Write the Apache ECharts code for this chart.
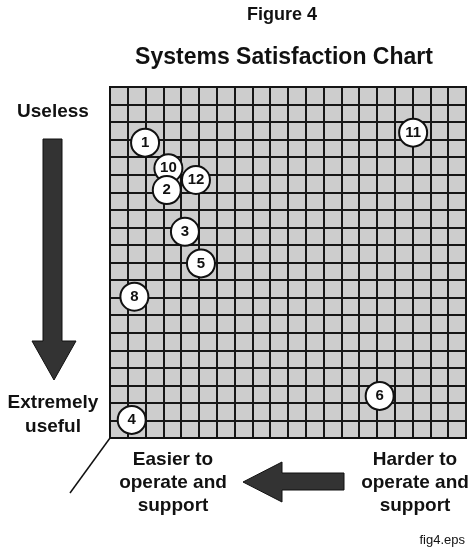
<!DOCTYPE html>
<html>
<head>
<meta charset="utf-8">
<script src="https://cdn.jsdelivr.net/npm/echarts@6/dist/echarts.min.js"></script>
<style>
html,body{margin:0;padding:0;background:#fff;}
#chart{width:474px;height:556px;}
</style>
</head>
<body>
<div id="chart"></div>
<script>
// System ids and their positions on the 20x20 grid
const systems = ['1', '10', '12', '2', '3', '5', '8', '4', '6', '11'];
// x: ease of operation/support (0 = easier, 20 = harder)
const easeValues = [1.97, 3.28, 4.83, 3.19, 4.21, 5.11, 1.37, 1.22, 15.15, 17.03];
// y: usefulness (0 = extremely useful, 20 = useless)
const usefulValues = [16.83, 15.37, 14.7, 14.13, 11.75, 9.95, 8.05, 1.03, 2.4, 17.4];

const FONT = 'Liberation Sans, Arial, sans-serif';

const chart = echarts.init(document.getElementById('chart'), null, {renderer: 'canvas'});

const points = systems.map((s, i) => ({name: s, value: [easeValues[i], usefulValues[i]]}));

const axisCommon = {
  type: 'value', min: 0, max: 20, interval: 1,
  axisLabel: {show: false}, axisTick: {show: false},
  axisLine: {show: true, lineStyle: {color: '#111', width: 2}},
  splitLine: {show: true, lineStyle: {color: '#161616', width: 2}}
};

chart.setOption({
  backgroundColor: '#ffffff',
  animation: false,
  grid: {
    left: 110, top: 87, width: 356, height: 351,
    show: true, backgroundColor: '#cdcdcd', borderColor: '#111', borderWidth: 2
  },
  xAxis: Object.assign({}, axisCommon),
  yAxis: Object.assign({}, axisCommon),
  series: [{
    type: 'scatter',
    data: points,
    symbol: 'circle',
    symbolSize: 28,
    itemStyle: {color: '#ffffff', borderColor: '#111', borderWidth: 2, opacity: 1},
    label: {
      show: true, position: 'inside', formatter: '{b}',
      color: '#111', fontFamily: FONT, fontWeight: 'bold', fontSize: 15
    },
    z: 5
  }],
  graphic: [
    {type: 'text', x: 282, y: 15, style: {text: 'Figure 4', font: 'bold 18px ' + FONT, fill: '#111', align: 'center', verticalAlign: 'middle'}},
    {type: 'text', x: 284, y: 58, style: {text: 'Systems Satisfaction Chart', font: 'bold 23px ' + FONT, fill: '#111', align: 'center', verticalAlign: 'middle'}},
    {type: 'text', x: 53, y: 112, style: {text: 'Useless', font: 'bold 19px ' + FONT, fill: '#111', align: 'center', verticalAlign: 'middle'}},
    {type: 'text', x: 53, y: 403, style: {text: 'Extremely', font: 'bold 19px ' + FONT, fill: '#111', align: 'center', verticalAlign: 'middle'}},
    {type: 'text', x: 53, y: 427, style: {text: 'useful', font: 'bold 19px ' + FONT, fill: '#111', align: 'center', verticalAlign: 'middle'}},
    {type: 'polygon', shape: {points: [[43,139],[62,139],[62,341],[76,341],[54,380],[32,341],[43,341]]}, style: {fill: '#333', stroke: '#111', lineWidth: 1}},
    {type: 'line', shape: {x1: 110, y1: 438, x2: 70, y2: 493}, style: {stroke: '#111', lineWidth: 1.5}},
    {type: 'text', x: 173, y: 483, style: {text: 'Easier to\noperate and\nsupport', font: 'bold 19px ' + FONT, fill: '#111', align: 'center', verticalAlign: 'middle', lineHeight: 23}},
    {type: 'text', x: 415, y: 483, style: {text: 'Harder to\noperate and\nsupport', font: 'bold 19px ' + FONT, fill: '#111', align: 'center', verticalAlign: 'middle', lineHeight: 23}},
    {type: 'polygon', shape: {points: [[344,473],[282,473],[282,462],[243,482],[282,502],[282,490],[344,490]]}, style: {fill: '#333', stroke: '#111', lineWidth: 1}},
    {type: 'text', x: 465, y: 540, style: {text: 'fig4.eps', font: '13px ' + FONT, fill: '#111', align: 'right', verticalAlign: 'middle'}}
  ]
});
</script>
</body>
</html>
